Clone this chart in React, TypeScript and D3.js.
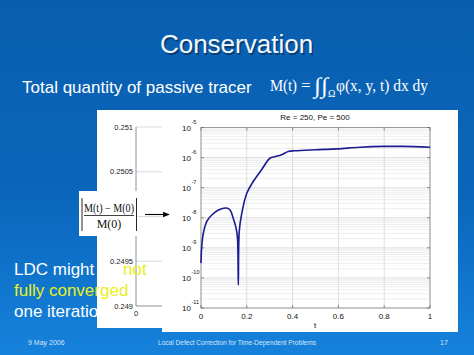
import { useEffect } from "react"
import * as d3 from "d3"

// relative change |M(t)-M(0)|/M(0)
const tValues = [0, 0.003, 0.01, 0.025, 0.047, 0.076, 0.112, 0.127, 0.141, 0.152, 0.159, 0.163, 0.167, 0.178, 0.2, 0.228, 0.265, 0.301, 0.323, 0.352, 0.381, 0.41, 0.5, 0.593, 0.694, 0.795, 0.882, 1]
const relChange = [3.1e-10, 1.1e-9, 3.0e-9, 7.4e-9, 1.23e-8, 1.8e-8, 2.1e-8, 1.8e-8, 9.5e-9, 5.0e-9, 2.3e-9, 5.8e-11, 3.5e-9, 1.4e-8, 6.5e-8, 1.6e-7, 4.0e-7, 9.5e-7, 1.07e-6, 1.25e-6, 1.6e-6, 1.68e-6, 1.82e-6, 1.95e-6, 2.2e-6, 2.35e-6, 2.35e-6, 2.2e-6]

const xTicks = [0, 0.2, 0.4, 0.6, 0.8, 1]
const yExponents = [-11, -10, -9, -8, -7, -6, -5]
// the 0.25 label of the back chart sits under the formula box
const backTicks = [0.249, 0.2495, 0.25, 0.2505, 0.251]
const backTickLabels = ["0.249", "0.2495", "", "0.2505", "0.251"]

const plotTitle = "Re = 250, Pe = 500"

export default function App() {
  useEffect(() => {
    document.body.style.margin = "0"
  }, [])

  const width = 474
  const height = 355

  const x = d3.scaleLinear().domain([0, 1]).range([201, 430])
  const y = d3.scaleLog().domain([1e-11, 1e-5]).range([308, 127.5])
  const yb = d3.scaleLinear().domain([0.249, 0.251]).range([306, 127])

  const line = d3
    .line<number>()
    .x((d, i) => x(tValues[i]))
    .y((d) => y(d))
    .curve(d3.curveCatmullRom.alpha(0.5))

  const minor: number[] = []
  yExponents.slice(0, -1).forEach((e) => {
    for (let m = 2; m <= 9; m++) minor.push(m * Math.pow(10, e))
  })

  const sans = "'Liberation Sans', Arial, sans-serif"
  const serif = "'Liberation Serif', 'Times New Roman', serif"

  return (
    <svg width={width} height={height} style={{ position: "absolute", left: 0, top: 0 }}>
      <defs>
        <linearGradient id="bg" x1="0" y1="0" x2="0" y2="1">
          <stop offset="0" stopColor="#0a5eae" />
          <stop offset="0.55" stopColor="#0966bb" />
          <stop offset="1" stopColor="#1682dc" />
        </linearGradient>
        <marker id="arr" viewBox="0 0 10 10" refX="9" refY="5" markerWidth="6" markerHeight="6" orient="auto">
          <path d="M0,1 L10,5 L0,9 z" fill="#000" />
        </marker>
      </defs>
      <rect width={width} height={height} fill="url(#bg)" />

      {/* title */}
      <text x={238} y={54.5} textAnchor="middle" fontFamily={sans} fontSize={26} fill="#08305a" opacity={0.7}>
        Conservation
      </text>
      <text x={236.5} y={53} textAnchor="middle" fontFamily={sans} fontSize={26} fill="#f4f8fc">
        Conservation
      </text>

      <text x={22} y={93} fontFamily={sans} fontSize={17} fill="#ffffff">
        Total quantity of passive tracer
      </text>
      <g fontFamily={serif} fill="#ffffff" fontSize={17}>
        <text x={270} y={91} textLength={27} lengthAdjust="spacingAndGlyphs">M(t)</text>
        <text x={301} y={91}>=</text>
        <text x={314} y={93} fontSize={22} textLength={14} lengthAdjust="spacingAndGlyphs">∫∫</text>
        <text x={328} y={97} fontSize={10}>Ω</text>
        <text x={336} y={91} textLength={92} lengthAdjust="spacingAndGlyphs">φ(x, y, t) dx dy</text>
      </g>

      {/* text under the panels */}
      <g fontFamily={sans} fontSize={17} fill="#ffffff">
        <text x={14} y={275}>LDC might</text>
        <text x={14} y={317}>one iteration</text>
      </g>

      {/* back panel */}
      <rect x={97} y={110} width={100} height={218} fill="#ffffff" />
      <g>
        {backTicks.map((v, i) => (
          <g key={i}>
            <line x1={136} x2={165} y1={yb(v)} y2={yb(v)} stroke={i === 0 ? "#777" : "#cfcfcf"} strokeWidth={0.8} />
            {backTickLabels[i] && (
              <text x={133} y={yb(v) + 2.5} textAnchor="end" fontFamily={sans} fontSize={7.5} fill="#222">
                {backTickLabels[i]}
              </text>
            )}
          </g>
        ))}
        <line x1={136} x2={136} y1={yb(0.251)} y2={yb(0.249)} stroke="#777" strokeWidth={0.8} />
        <text x={136} y={316} textAnchor="middle" fontFamily={sans} fontSize={7.5} fill="#222">
          0
        </text>
      </g>

      {/* formula box */}
      <rect x={79} y={191} width={58} height={45} fill="#ffffff" />
      <g fontFamily={serif} fontSize={12} fill="#111">
        <text x={84} y={211.5} textLength={50} lengthAdjust="spacingAndGlyphs">M(t) − M(0)</text>
        <text x={109} y={228} textAnchor="middle">M(0)</text>
      </g>
      <line x1={84} x2={134} y1={215.5} y2={215.5} stroke="#111" strokeWidth={0.8} />
      <line x1={82} x2={82} y1={198} y2={231} stroke="#111" strokeWidth={0.9} />
      <line x1={136.5} x2={136.5} y1={198} y2={231} stroke="#111" strokeWidth={0.9} />

      {/* front panel */}
      <rect x={162} y={110} width={296} height={222} fill="#ffffff" />

      <g>
        {minor.map((v, i) => (
          <line key={i} x1={x(0)} x2={x(1)} y1={y(v)} y2={y(v)} stroke="#e2e2e2" strokeWidth={0.6} />
        ))}
        {yExponents.map((e) => (
          <line key={e} x1={x(0)} x2={x(1)} y1={y(Math.pow(10, e))} y2={y(Math.pow(10, e))} stroke="#d2d2d2" strokeWidth={0.7} />
        ))}
        {xTicks.map((t) => (
          <line key={t} x1={x(t)} x2={x(t)} y1={y(1e-5)} y2={y(1e-11)} stroke="#d2d2d2" strokeWidth={0.7} />
        ))}
        <rect x={x(0)} y={y(1e-5)} width={x(1) - x(0)} height={y(1e-11) - y(1e-5)} fill="none" stroke="#8a8a8a" strokeWidth={0.8} />
        {yExponents.map((e) => (
          <g key={e}>
            <line x1={x(0)} x2={x(0) + 3} y1={y(Math.pow(10, e))} y2={y(Math.pow(10, e))} stroke="#666" strokeWidth={0.7} />
            <line x1={x(1) - 3} x2={x(1)} y1={y(Math.pow(10, e))} y2={y(Math.pow(10, e))} stroke="#666" strokeWidth={0.7} />
            <text x={191} y={y(Math.pow(10, e)) + 3} textAnchor="end" fontFamily={sans} fontSize={8} fill="#111">
              10
            </text>
            <text x={191.5} y={y(Math.pow(10, e)) - 4} fontFamily={sans} fontSize={5.5} fill="#111">
              {e}
            </text>
          </g>
        ))}
        {xTicks.map((t) => (
          <g key={t}>
            <line x1={x(t)} x2={x(t)} y1={y(1e-11)} y2={y(1e-11) - 3} stroke="#666" strokeWidth={0.7} />
            <line x1={x(t)} x2={x(t)} y1={y(1e-5)} y2={y(1e-5) + 3} stroke="#666" strokeWidth={0.7} />
            <text x={x(t)} y={319} textAnchor="middle" fontFamily={sans} fontSize={8} fill="#111">
              {d3.format("~g")(t)}
            </text>
          </g>
        ))}
        <text x={315} y={328} textAnchor="middle" fontFamily={sans} fontSize={8} fill="#111">
          t
        </text>
        <text x={315} y={120} textAnchor="middle" fontFamily={sans} fontSize={8} fill="#111">
          {plotTitle}
        </text>
        <path d={line(relChange) || ""} fill="none" stroke="#1c1c92" strokeWidth={1.6} />
      </g>

      {/* arrow */}
      <line x1={145} x2={169} y1={214.5} y2={214.5} stroke="#000" strokeWidth={1.1} markerEnd="url(#arr)" />

      {/* text over the panels */}
      <g fontFamily={sans} fontSize={17} fill="#e8f01e">
        <text x={123} y={275}>not</text>
        <text x={14} y={296}>fully converged</text>
      </g>

      {/* footer */}
      <g fontFamily={sans} fontSize={7} fill="#d4e6f8">
        <text x={28} y={344.5}>9 May 2006</text>
        <text x={158} y={344.5} textLength={158} lengthAdjust="spacingAndGlyphs">Local Defect Correction for Time-Dependent Problems</text>
        <text x={440} y={344.5}>17</text>
      </g>
    </svg>
  )
}
